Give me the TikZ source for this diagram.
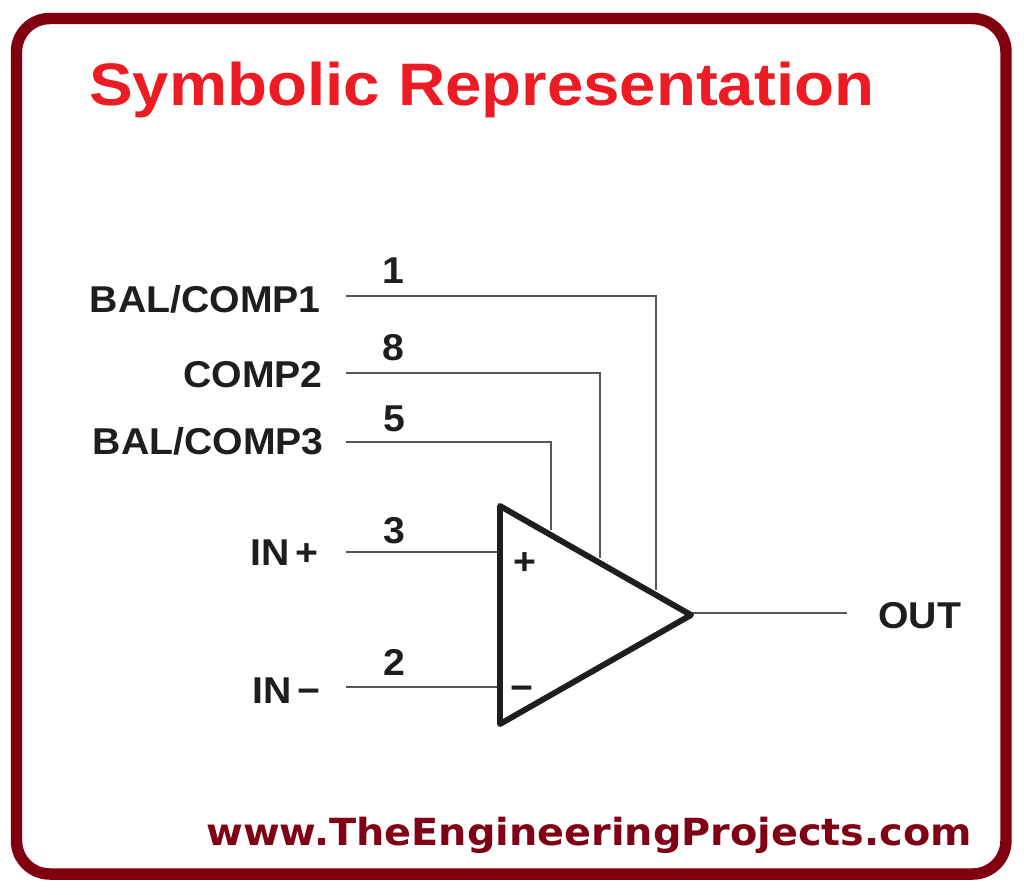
\documentclass[tikz,border=0pt]{standalone}
\usepackage{fontspec}
\setmainfont{Liberation Sans}
\newfontfamily\titlefont[FakeStretch=1.09]{Liberation Sans}
\newfontfamily\pinfont[FakeStretch=1.05]{Liberation Sans}
\newfontfamily\webfont[FakeStretch=1.065]{DejaVu Sans}
\definecolor{framered}{RGB}{128,0,16}
\definecolor{titlered}{RGB}{237,28,36}
\definecolor{webred}{RGB}{128,0,20}
\definecolor{inkgrey}{RGB}{30,30,30}
\tikzset{
  pinlabel/.style={font=\pinfont\bfseries\fontsize{28}{30}\selectfont,text=inkgrey,inner sep=0pt},
  pinline/.style={draw=inkgrey!75,line width=1.5pt}
}
\begin{document}
\begin{tikzpicture}[x=0.75pt,y=-0.75pt]
    \useasboundingbox (0,0) rectangle (1024,894);
    % Kader
    \draw[framered,line width=8.6pt,rounded corners=25pt] (16.5,18.5) rectangle (1006,874);

    % Titel en website
    \node[inner sep=0pt,anchor=base west,text=titlered,font=\titlefont\bfseries\fontsize{45}{48}\selectfont] (title) at (89,105) {Symbolic Representation};
    \node[inner sep=0pt,anchor=base east,text=webred,font=\webfont\bfseries\fontsize{28}{30}\selectfont] (web) at (972,845) {www.TheEngineeringProjects.com};

    % Lijnen
    \coordinate (end1) at (346,296);
    \coordinate (top1) at (656,296);
    \coordinate (foot1) at (656,590);
    \coordinate (end8) at (346,373);
    \coordinate (top8) at (600,373);
    \coordinate (foot8) at (600,558);
    \coordinate (end5) at (346,442);
    \coordinate (top5) at (551,442);
    \coordinate (foot5) at (551,530);
    \coordinate (end3) at (346,552);
    \coordinate (foot3) at (499,552);
    \coordinate (end2) at (346,687);
    \coordinate (foot2) at (499,687);
    \coordinate (endO) at (847,613);
    \coordinate (ampC) at (691,615);
    \draw[pinline] (end1) -- (top1) -- (foot1);
    \draw[pinline] (end8) -- (top8) -- (foot8);
    \draw[pinline] (end5) -- (top5) -- (foot5);
    \draw[pinline] (end3) -- (foot3);
    \draw[pinline] (end2) -- (foot2);
    \draw[pinline] (ampC |- endO) -- (endO);

    % Versterker
    \coordinate (ampA) at (500,506);
    \coordinate (ampB) at (500,724);
    \draw[inkgrey,line width=4.4pt,line join=round] (ampA) -- (ampC) -- (ampB) -- cycle;
    \node[pinlabel] (plus) at (525,564) {+};
    \node[pinlabel] (minus) at (522,693) {−};

    % Labels links
    \node[pinlabel,anchor=base east] (bal1) at (321,312) {BAL/COMP1};
    \node[pinlabel,anchor=base east] (comp2) at (323,387) {COMP2};
    \node[pinlabel,anchor=base east] (bal3) at (324,454) {BAL/COMP3};
    \node[pinlabel,anchor=base east] (inp) at (319,565) {IN\,+};
    \node[pinlabel,anchor=base east] (inm) at (321,703) {IN\,−};
    \node[pinlabel,anchor=base west] (out) at (878,628) {OUT};

    % Pinnummers
    \node[pinlabel,anchor=base] (pin1) at (393,283) {1};
    \node[pinlabel,anchor=base] (pin8) at (393,360) {8};
    \node[pinlabel,anchor=base] (pin5) at (394,431) {5};
    \node[pinlabel,anchor=base] (pin3) at (394,543) {3};
    \node[pinlabel,anchor=base] (pin2) at (394,675) {2};
\end{tikzpicture}
\end{document}
